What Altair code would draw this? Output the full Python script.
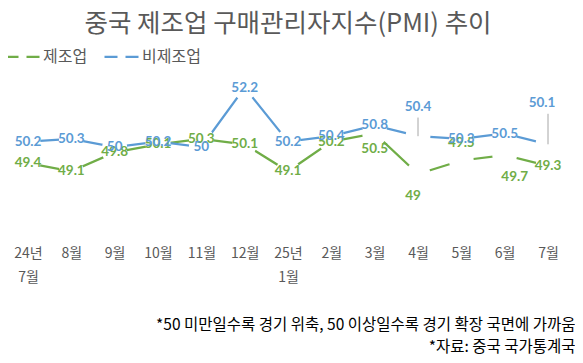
import altair as alt
import pandas as pd

months = ["24년\n7월", "8월", "9월", "10월", "11월", "12월", "25년\n1월",
          "2월", "3월", "4월", "5월", "6월", "7월"]
series = ["제조업", "비제조업"]
manufacturing = [49.4, 49.1, 49.8, 50.1, 50.3, 50.1, 49.1, 50.2, 50.5, 49.0, 49.5, 49.7, 49.3]
non_manufacturing = [50.2, 50.3, 50.0, 50.2, 50.0, 52.2, 50.2, 50.4, 50.8, 50.4, 50.3, 50.5, 50.1]

title_text = "중국 제조업 구매관리자지수(PMI) 추이"
footnotes = ["*50 미만일수록 경기 위축, 50 이상일수록 경기 확장 국면에 가까움",
             "*자료: 중국 국가통계국"]

# label nudges (pixels) for labels that were moved off their points
manuf_dx = [0, 0, 0, 0, 0, 0, 0, 0, 0, -5, 0, 10, 0]
manuf_dy = [0, 0, 0, 0, 0, 0, 0, 0, 15, 22, -18, 22, 0]
nonman_dx = [0, 0, 0, 0, 0, 0, 0, 0, 0, 0, 0, 0, -6]
nonman_dy = [0, 0, 0, 0, 0, 0, 0, 0, 0, -29, 0, 0, -41]
# leader-line length (value units) for moved labels
nonman_leader = [0, 0, 0, 0, 0, 0, 0, 0, 0, 0.69, 0, 0, 1.13]

GREEN = "#70AD47"
BLUE = "#5B9BD5"
GRAY = "#595959"

rows = []
for i, m in enumerate(months):
    rows.append(dict(month=m, series=series[0], value=manufacturing[i],
                     dx=manuf_dx[i], dy=manuf_dy[i], leader=0.0))
    rows.append(dict(month=m, series=series[1], value=non_manufacturing[i],
                     dx=nonman_dx[i], dy=nonman_dy[i], leader=nonman_leader[i]))
df = pd.DataFrame(rows)
df["label"] = df["value"].map(lambda v: f"{v:g}")
df["top"] = df["value"] + df["leader"]

x_axis = alt.Axis(
    title=footnotes, titleFont="Noto Sans CJK KR", titleFontSize=15.5,
    titleFontWeight="normal", titleColor="black", titleAnchor="end",
    titleAlign="right", titleBaseline="alphabetic", titleX=567, titleY=101,
    titleLineHeight=22,
    labelExpr="split(datum.label, '\\n')", labelFont="Noto Sans CJK KR",
    labelFontSize=14, labelColor=GRAY, labelLineHeight=24, labelPadding=18,
    labelAngle=0, labelOverlap=False, domain=False, ticks=False, grid=False,
)
x_enc = alt.X("month:N", sort=months, scale=alt.Scale(type="point", padding=0.4615), axis=x_axis)
y_enc = alt.Y("value:Q", scale=alt.Scale(domain=[47, 53], nice=False, zero=False), axis=None)
color_scale = alt.Scale(domain=series, range=[GREEN, BLUE])

lines = alt.Chart(df).mark_line(strokeWidth=2.25).encode(
    x=x_enc, y=y_enc,
    color=alt.Color("series:N", scale=color_scale, sort=series, legend=alt.Legend(
        title=None, orient="none", legendX=-4, legendY=-28, direction="horizontal",
        symbolType="stroke", symbolSize=1156, symbolStrokeWidth=2.25,
        symbolDash=[13, 8], labelFont="Noto Sans CJK KR", labelFontSize=16,
        labelColor=GRAY, labelOffset=2, columnPadding=12, padding=0)),
)

markers = alt.Chart(df).mark_circle(color="white", opacity=1, size=616).encode(
    x=x_enc, y=y_enc)

leaders = alt.Chart(df[df["leader"] > 0]).mark_rule(color="#A6A6A6", strokeWidth=1).encode(
    x=x_enc, y=y_enc, y2="top:Q")

texts = []
for (dx, dy), grp in df.groupby(["dx", "dy"]):
    texts.append(
        alt.Chart(grp).mark_text(font="Lato", fontWeight="bold", fontSize=13.5,
                                 dx=int(dx), dy=int(dy)).encode(
            x=x_enc, y=y_enc, text="label:N",
            color=alt.Color("series:N", scale=color_scale, legend=None))
    )

chart = alt.layer(lines, markers, leaders, *texts).properties(
    width=560, height=162,
    title=alt.TitleParams(title_text, font="Noto Sans CJK KR", fontSize=25.5,
                          fontWeight="normal", color=GRAY, anchor="middle", offset=1),
    autosize=alt.AutoSizeParams(type="none"),
    padding={"left": 0, "top": 58, "right": 7, "bottom": 127},
).configure_view(stroke=None)

chart.save("out.html", embed_options={"renderer": "svg", "actions": False})
